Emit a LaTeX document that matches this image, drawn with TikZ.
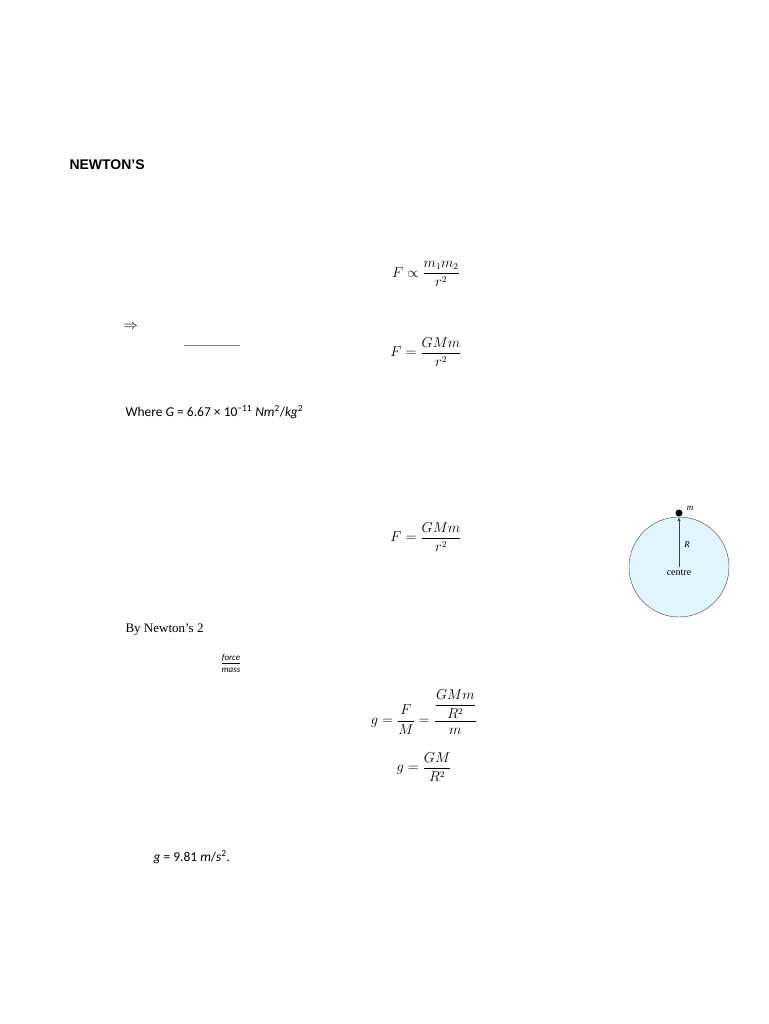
\documentclass[tikz,border=0pt]{standalone}
\usepackage{amsmath}
\usepackage{fontspec}
\setmainfont{Carlito}
\newfontfamily\serifnr{Liberation Serif}
\newfontfamily\headsans{Liberation Sans}
\begin{document}
\begin{tikzpicture}[x=1pt,y=-1pt,font=\fontsize{13.5}{16}\selectfont]
\useasboundingbox (0,0) rectangle (768,1024);

\node[anchor=west,font=\headsans\fontsize{14}{16}\selectfont\bfseries] (title) at (66,165) {NEWTON’S};

\node (prop) at (426,274) {$F \propto \dfrac{m_1m_2}{r^2}$};
\node[anchor=west] (impl) at (120,327) {$\Rightarrow$};
\draw[gray,thick] (184,345) -- (240,345);
\node (law) at (426,352) {$F = \dfrac{GMm}{r^2}$};
\node[anchor=west] (where) at (122,412) {Where \textit{G} = 6.67 × 10\textsuperscript{−11} \textit{Nm}\textsuperscript{2}/\textit{kg}\textsuperscript{2}};

\node (law2) at (426,537) {$F = \dfrac{GMm}{r^2}$};

% earth
\draw[fill=cyan!12,draw=gray!50!black] (679,567) circle (50);
\draw[-latex,gray!50!black] (679,567) -- (679,517);
\fill (679,513) circle (3.5);
\node[font=\serifnr\itshape\fontsize{9}{10}\selectfont] (m) at (690,508) {m};
\node[font=\serifnr\itshape\fontsize{9}{10}\selectfont] (R) at (687,545) {R};
\node[font=\serifnr\fontsize{10}{11}\selectfont] (centre) at (679,573) {centre};

\node[anchor=west,font=\serifnr\fontsize{13}{15}\selectfont] (newton) at (122,630) {By Newton’s 2};
\node[font=\fontsize{9}{10}\selectfont] (fm) at (231,663) {$\dfrac{\mathit{force}}{\mathit{mass}}$};

\node (g1) at (424,712) {$g = \dfrac{F}{M} = \dfrac{\dfrac{GMm}{R^2}}{m}$};
\node (g2) at (424,767) {$g = \dfrac{GM}{R^2}$};

\node[anchor=west] (gval) at (150,857) {\textit{g} = 9.81 \textit{m}/\textit{s}\textsuperscript{2}.};
\end{tikzpicture}
\end{document}
